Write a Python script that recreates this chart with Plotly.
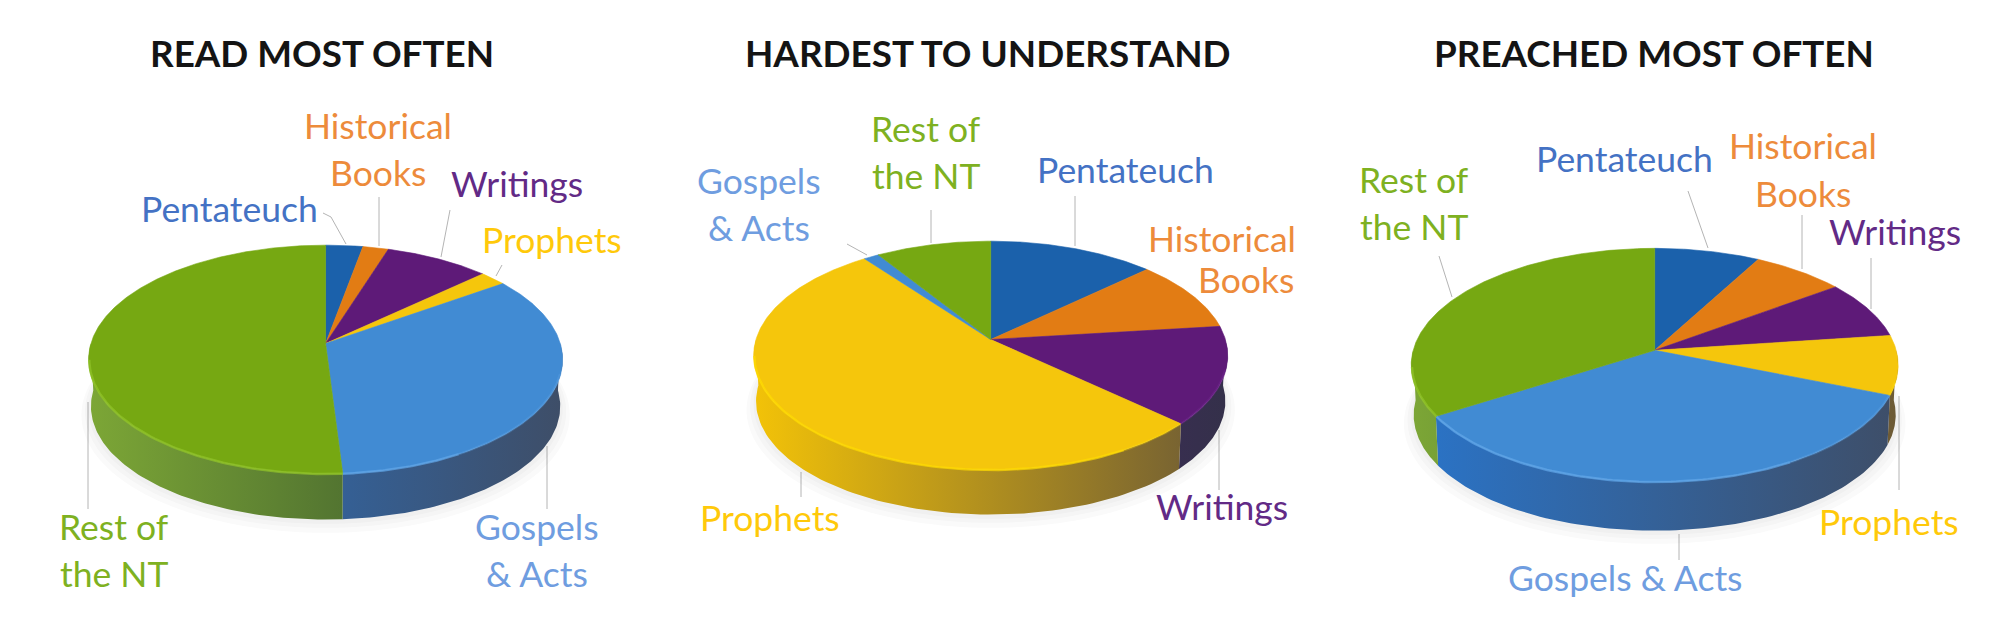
import numpy as np
import plotly.graph_objects as go

# ---------- data ----------
categories = ["Pentateuch", "Historical Books", "Writings", "Prophets", "Gospels & Acts", "Rest of the NT"]
read_most_often = [2.9, 2.0, 8.2, 2.1, 33.8, 51.0]
hardest_to_understand = [13.0, 10.1, 13.8, 52.9, 1.2, 9.0]
preached_most_often = [7.9, 7.0, 8.0, 8.2, 34.9, 34.0]
panel_titles = ["READ MOST OFTEN", "HARDEST TO UNDERSTAND", "PREACHED MOST OFTEN"]

# ---------- styles ----------
face_colors = ["#1b61ab", "#e27c14", "#5e1a78", "#f5c60c", "#418bd3", "#76a812"]
rim_colors = ["#3f86d0", "#f59a3a", "#7c2c9c", "#ffdc00", "#62a8ea", "#92c52a"]
side_light = ["#1f62b0", "#c87010", "#55207c", "#f2c208", "#2a74c8", "#7ca636"]
side_dark = ["#2e4a70", "#6b4a20", "#34304a", "#6c5a36", "#3e4e68", "#2f4a2c"]
label_colors = ["#4472c4", "#ed8b3b", "#622a86", "#ffc90a", "#6f9de0", "#7eb121"]
TITLE_COLOR = "#141414"
LEADER_COLOR = "#b4b4b4"
FONT = "Lato"
TITLE_SIZE = 36.8
LABEL_SIZE = 35.5
LABEL_SHIFT = -2.5

# geometry per panel: centre x, apex y, half width, half height, perspective, depth
geometry = [
    dict(cx=325.6, cy=343.5, a=234.7, b=112.1, k=0.14, depth=47),
    dict(cx=990.7, cy=339.5, a=234.7, b=112.1, k=0.14, depth=46),
    dict(cx=1654.7, cy=350.3, a=241.5, b=114.9, k=0.127, depth=50),
]
title_pos = [(322, 53), (988, 53), (1654, 53)]

# text placement: (text, colour index, x, y)
labels = [
    ("Historical", 1, 378, 128), ("Books", 1, 378, 175),
    ("Writings", 2, 517, 186), ("Pentateuch", 0, 229, 211), ("Prophets", 3, 552, 242),
    ("Gospels", 4, 537, 529), ("& Acts", 4, 537, 576),
    ("Rest of", 5, 114, 529), ("the NT", 5, 114, 576),
    ("Rest of", 5, 926, 131), ("the NT", 5, 926, 178),
    ("Gospels", 4, 759, 183), ("& Acts", 4, 759, 230),
    ("Pentateuch", 0, 1125, 172),
    ("Historical", 1, 1222, 241), ("Books", 1, 1246, 282),
    ("Writings", 2, 1222, 509), ("Prophets", 3, 770, 520),
    ("Pentateuch", 0, 1624, 161),
    ("Historical", 1, 1803, 148), ("Books", 1, 1803, 196),
    ("Writings", 2, 1895, 234),
    ("Rest of", 5, 1414, 182), ("the NT", 5, 1414, 229),
    ("Prophets", 3, 1889, 524), ("Gospels & Acts", 4, 1625, 580),
]

# leader lines as pixel polylines
leaders = [
    [(323, 213), (331, 217), (346, 244)], [(379, 197), (379, 246)], [(450, 210), (441, 257)],
    [(502, 265), (496, 276)], [(547, 446), (547, 509)], [(88, 402), (88, 509)],
    [(931, 210), (931, 243)], [(1075, 196), (1075, 246)], [(847, 244), (867, 255)],
    [(1219, 430), (1219, 490)], [(801, 472), (801, 497)],
    [(1688, 191), (1708, 248)], [(1802, 215), (1802, 269)], [(1871, 258), (1871, 309)],
    [(1439, 256), (1452, 297)], [(1899, 396), (1899, 490)], [(1679, 534), (1679, 560)],
]


def project(theta_deg, g, scale=1.0, dy=0.0):
    t = np.radians(theta_deg)
    ux, uy = np.sin(t), np.cos(t)
    w = 1 + g["k"] * uy
    return g["cx"] + scale * g["a"] * ux / w, g["cy"] - scale * g["b"] * uy / w + dy


def bounds(values):
    c = np.cumsum([0.0] + list(values))
    return c / c[-1] * 360.0


fig = go.Figure()
common = dict(mode="lines", showlegend=False, hoverinfo="text")


def draw_panel(values, g):
    edges = bounds(values)
    # soft shadow under the disc
    for s, extra in [(1.03, 8), (1.015, 5), (1.0, 3)]:
        X, Y = project(np.linspace(0, 360, 181), g, s, g["depth"] + extra)
        fig.add_trace(go.Scatter(x=X, y=Y, fill="toself", fillcolor="rgba(60,60,60,0.022)",
                                 mode="none", showlegend=False, hoverinfo="skip"))
    # side wall
    for i, name in enumerate(categories):
        lo, hi = max(edges[i], 90.0), min(edges[i + 1], 270.0)
        if hi <= lo:
            continue
        th = np.linspace(lo, hi, 90)
        X1, Y1 = project(th, g)
        X2, Y2 = project(th[::-1], g, 0.99, g["depth"])
        fig.add_trace(go.Scatter(
            x=np.r_[X1, X2, X1[0]], y=np.r_[Y1, Y2, Y1[0]], fill="toself",
            fillgradient=dict(type="horizontal", start=g["cx"] - g["a"], stop=g["cx"] + g["a"],
                              colorscale=[[0, side_light[i]], [1, side_dark[i]]]),
            line=dict(width=0), text=name, **common))
    # top face
    for i, name in enumerate(categories):
        th = np.linspace(edges[i], edges[i + 1], max(int(edges[i + 1] - edges[i]) * 2, 6))
        X, Y = project(th, g)
        pct = values[i]
        fig.add_trace(go.Scatter(
            x=np.r_[g["cx"], X, g["cx"]], y=np.r_[g["cy"], Y, g["cy"]], fill="toself",
            fillcolor=face_colors[i], line=dict(width=0.6, color=face_colors[i]),
            text=f"{name}: {pct}%", **common))
    # bevel highlight on the front edge: bright on the lit left, faint on the right
    for arc_lo, arc_hi, alpha in [(105.0, 150.0, 0.3), (150.0, 262.0, 0.7)]:
        for i, name in enumerate(categories):
            lo, hi = max(edges[i], arc_lo), min(edges[i + 1], arc_hi)
            if hi <= lo:
                continue
            X, Y = project(np.linspace(lo, hi, 80), g, 0.997, 0.5)
            fig.add_trace(go.Scatter(x=X, y=Y, mode="lines", showlegend=False, hoverinfo="skip",
                                     line=dict(color=rim_colors[i], width=2.5), opacity=alpha))


for vals, geo in zip([read_most_often, hardest_to_understand, preached_most_often], geometry):
    draw_panel(vals, geo)

annotations = []
for t, (x, y) in zip(panel_titles, title_pos):
    annotations.append(dict(x=x, y=y, xref="x", yref="y", text=f"<b>{t}</b>", showarrow=False,
                            font=dict(family=FONT, size=TITLE_SIZE, color=TITLE_COLOR)))
for text, ci, x, y in labels:
    annotations.append(dict(x=x, y=y + LABEL_SHIFT, xref="x", yref="y", text=text.replace("&", "&amp;"),
                            showarrow=False,
                            font=dict(family=FONT, size=LABEL_SIZE, color=label_colors[ci])))

shapes = []
for pts in leaders:
    for (x0, y0), (x1, y1) in zip(pts[:-1], pts[1:]):
        shapes.append(dict(type="line", xref="x", yref="y", x0=x0, y0=y0, x1=x1, y1=y1,
                           line=dict(color=LEADER_COLOR, width=1), layer="below"))

fig.update_layout(
    width=1990, height=630, margin=dict(l=0, r=0, t=0, b=0),
    paper_bgcolor="white", plot_bgcolor="white",
    xaxis=dict(range=[0, 1990], visible=False, fixedrange=True),
    yaxis=dict(range=[630, 0], visible=False, fixedrange=True),
    annotations=annotations, shapes=shapes, showlegend=False,
)

fig.write_html("out.html", config={"displayModeBar": False},
               post_script="document.body.style.margin='0';")
